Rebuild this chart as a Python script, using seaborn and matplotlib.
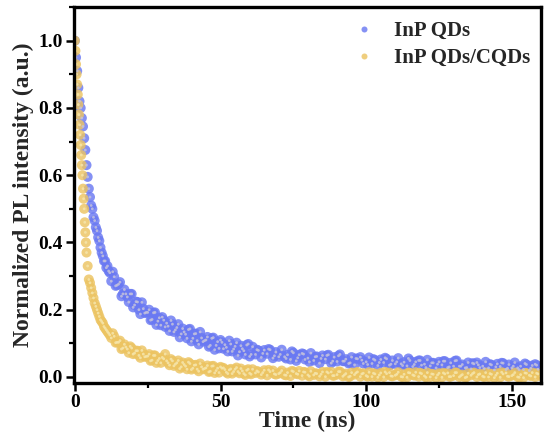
import matplotlib
matplotlib.use("Agg")
import matplotlib.pyplot as plt
from matplotlib.ticker import MultipleLocator
import seaborn as sns
import pandas as pd

# ---- data ----
t_qd_early = [0.0, 0.4, 0.8, 1.2, 1.6, 2.0, 2.4, 2.8, 3.2, 3.6, 4.0, 4.4, 4.8, 5.2, 5.6, 6.0,
              6.4, 6.8, 7.2, 7.6, 8.0, 8.4, 8.8, 9.2, 9.6, 10.0, 10.4, 10.8, 11.2, 11.6, 12.0]
v_qd_early = [1.00, 0.95, 0.91, 0.86, 0.82, 0.80, 0.77, 0.745, 0.71, 0.675, 0.63, 0.595, 0.56,
              0.535, 0.51, 0.50, 0.475, 0.465, 0.445, 0.435, 0.415, 0.405, 0.385, 0.37, 0.36,
              0.345, 0.345, 0.325, 0.33, 0.315, 0.31]
t_qd_late = list(range(13, 161))
v_qd_late = [0.313, 0.271, 0.276, 0.240, 0.260, 0.238, 0.247, 0.207, 0.224, 0.200, 0.222, 0.190,
             0.192, 0.169, 0.191, 0.155, 0.176, 0.178, 0.149, 0.151, 0.168, 0.134, 0.147, 0.118,
             0.144, 0.127, 0.141, 0.106, 0.128, 0.108, 0.134, 0.105, 0.110, 0.090, 0.115, 0.081,
             0.105, 0.110, 0.084, 0.088, 0.108, 0.076, 0.091, 0.064, 0.093, 0.078, 0.095, 0.061,
             0.090, 0.067, 0.079, 0.058, 0.080, 0.069, 0.081, 0.056, 0.074, 0.060, 0.081, 0.060,
             0.066, 0.052, 0.072, 0.048, 0.066, 0.070, 0.052, 0.056, 0.071, 0.049, 0.061, 0.041,
             0.064, 0.053, 0.066, 0.041, 0.059, 0.046, 0.067, 0.047, 0.053, 0.040, 0.059, 0.036,
             0.054, 0.059, 0.040, 0.045, 0.058, 0.040, 0.050, 0.034, 0.052, 0.043, 0.054, 0.035,
             0.049, 0.039, 0.056, 0.039, 0.044, 0.033, 0.049, 0.031, 0.045, 0.049, 0.035, 0.038,
             0.051, 0.033, 0.042, 0.027, 0.045, 0.036, 0.047, 0.028, 0.042, 0.032, 0.049, 0.032,
             0.037, 0.027, 0.043, 0.024, 0.039, 0.043, 0.028, 0.032, 0.045, 0.027, 0.036, 0.021,
             0.039, 0.031, 0.041, 0.022, 0.037, 0.027, 0.043, 0.027, 0.032, 0.022, 0.037, 0.019,
             0.034, 0.038, 0.023, 0.027]
t_qd_half = [12.5, 13.5, 14.5, 15.5, 16.5, 17.5, 18.5, 19.5, 20.5, 21.5, 22.5, 23.5,
             24.5, 25.5, 26.5, 27.5, 28.5, 29.5, 30.5, 31.5, 32.5, 33.5, 34.5, 35.5,
             36.5, 37.5, 38.5, 39.5, 40.5, 41.5, 42.5, 43.5, 44.5, 45.5, 46.5, 47.5,
             48.5, 49.5, 50.5, 51.5, 52.5, 53.5, 54.5, 55.5, 56.5, 57.5, 58.5, 59.5,
             60.5, 62.5, 64.5, 66.5, 68.5, 70.5, 72.5, 74.5, 76.5, 78.5, 80.5, 82.5,
             84.5, 86.5, 88.5, 90.5, 92.5, 94.5, 96.5, 98.5, 100.5, 102.5, 104.5, 106.5,
             108.5, 110.5, 112.5, 114.5, 116.5, 118.5, 120.5, 122.5, 124.5, 126.5, 128.5, 130.5,
             132.5, 134.5, 136.5, 138.5, 140.5, 142.5, 144.5, 146.5, 148.5, 150.5, 152.5, 154.5,
             156.5, 158.5]
v_qd_half = [0.285, 0.298, 0.273, 0.282, 0.247, 0.247, 0.223, 0.247, 0.214, 0.223, 0.187, 0.203,
             0.192, 0.200, 0.171, 0.192, 0.166, 0.154, 0.169, 0.160, 0.137, 0.157, 0.140, 0.157,
             0.128, 0.134, 0.115, 0.143, 0.115, 0.129, 0.097, 0.116, 0.108, 0.119, 0.094, 0.117,
             0.094, 0.085, 0.103, 0.096, 0.076, 0.098, 0.083, 0.102, 0.075, 0.084, 0.067, 0.098,
             0.067, 0.081, 0.070, 0.083, 0.063, 0.067, 0.055, 0.076, 0.057, 0.068, 0.045, 0.060,
             0.055, 0.064, 0.047, 0.063, 0.047, 0.042, 0.055, 0.050, 0.037, 0.053, 0.043, 0.057,
             0.038, 0.045, 0.034, 0.055, 0.037, 0.049, 0.028, 0.042, 0.038, 0.047, 0.030, 0.048,
             0.032, 0.028, 0.041, 0.036, 0.025, 0.038, 0.030, 0.042, 0.026, 0.032, 0.022, 0.040,
             0.026, 0.035]

t_cqd_early = [0.0, 0.2, 0.4, 0.6, 0.8, 1.0, 1.2, 1.4, 1.6, 1.8, 2.0, 2.2, 2.4, 2.6, 2.8, 3.0,
               3.2, 3.4, 3.6, 3.8, 4.0, 4.4, 4.8, 5.2, 5.6, 6.0, 6.4, 6.8, 7.2, 7.6, 8.0, 8.4,
               8.8, 9.2, 9.6, 10.0, 10.4, 10.8, 11.2, 11.6, 12.0]
v_cqd_early = [1.00, 0.97, 0.93, 0.90, 0.87, 0.84, 0.81, 0.78, 0.75, 0.72, 0.69, 0.66, 0.63,
               0.60, 0.56, 0.53, 0.50, 0.46, 0.43, 0.40, 0.37, 0.33, 0.29, 0.28, 0.265, 0.25,
               0.235, 0.22, 0.21, 0.20, 0.19, 0.18, 0.17, 0.165, 0.16, 0.15, 0.145, 0.14, 0.135,
               0.13, 0.125]
t_cqd_late = list(range(13, 161))
v_cqd_late = [0.130, 0.102, 0.103, 0.083, 0.097, 0.083, 0.091, 0.068, 0.078, 0.064, 0.079, 0.060,
              0.062, 0.048, 0.064, 0.042, 0.055, 0.058, 0.068, 0.042, 0.053, 0.033, 0.042, 0.025,
              0.043, 0.032, 0.044, 0.022, 0.035, 0.023, 0.040, 0.023, 0.027, 0.015, 0.032, 0.012,
              0.026, 0.030, 0.027, 0.014, 0.021, 0.010, 0.023, 0.016, 0.025, 0.010, 0.020, 0.011,
              0.023, 0.012, 0.015, 0.007, 0.020, 0.005, 0.016, 0.019, 0.007, 0.010, 0.019, 0.006,
              0.013, 0.003, 0.016, 0.010, 0.018, 0.004, 0.014, 0.006, 0.017, 0.006, 0.010, 0.002,
              0.015, 0.001, 0.012, 0.015, 0.004, 0.007, 0.016, 0.002, 0.010, 0.000, 0.013, 0.007,
              0.015, 0.001, 0.011, 0.004, 0.014, 0.001, 0.009, -0.001, 0.012, 0.000, 0.010, 0.013,
              0.002, 0.005, 0.014, 0.001, 0.008, -0.001, 0.012, 0.006, 0.014, 0.001, 0.010, 0.003,
              0.013, 0.000, 0.008, -0.002, 0.011, -0.001, 0.009, 0.012, 0.001, 0.004, 0.013, 0.000,
              0.007, -0.002, 0.011, 0.005, 0.013, 0.000, 0.009, 0.002, 0.013, 0.000, 0.008, -0.002,
              0.011, -0.001, 0.009, 0.012, 0.001, 0.004, 0.013, 0.000, 0.007, -0.002, 0.011, 0.005,
              0.013, 0.000, 0.009, 0.002]
t_cqd_half = [12.5, 13.5, 14.5, 15.5, 16.5, 17.5, 18.5, 19.5, 20.5, 21.5, 22.5, 23.5,
              24.5, 25.5, 26.5, 27.5, 28.5, 29.5, 30.5, 31.5, 32.5, 33.5, 34.5, 35.5,
              36.5, 37.5, 38.5, 39.5, 40.5, 41.5, 42.5, 43.5, 44.5, 45.5, 46.5, 47.5,
              48.5, 49.5, 50.5, 51.5, 52.5, 53.5, 54.5, 55.5, 56.5, 57.5, 58.5, 59.5,
              60.5, 62.5, 64.5, 66.5, 68.5, 70.5, 72.5, 74.5, 76.5, 78.5, 80.5, 82.5,
              84.5, 86.5, 88.5, 90.5, 92.5, 94.5, 96.5, 98.5, 100.5, 102.5, 104.5, 106.5,
              108.5, 110.5, 112.5, 114.5, 116.5, 118.5, 120.5, 122.5, 124.5, 126.5, 128.5, 130.5,
              132.5, 134.5, 136.5, 138.5, 140.5, 142.5, 144.5, 146.5, 148.5, 150.5, 152.5, 154.5,
              156.5, 158.5]
v_cqd_half = [0.116, 0.121, 0.103, 0.108, 0.086, 0.089, 0.072, 0.086, 0.071, 0.078, 0.057, 0.068,
              0.061, 0.068, 0.050, 0.064, 0.049, 0.042, 0.054, 0.048, 0.035, 0.048, 0.038, 0.049,
              0.030, 0.037, 0.023, 0.040, 0.026, 0.036, 0.017, 0.030, 0.025, 0.034, 0.017, 0.033,
              0.019, 0.013, 0.026, 0.022, 0.010, 0.024, 0.016, 0.028, 0.011, 0.018, 0.006, 0.023,
              0.008, 0.018, 0.013, 0.021, 0.009, 0.013, 0.005, 0.018, 0.008, 0.015, 0.002, 0.011,
              0.008, 0.015, 0.004, 0.016, 0.006, 0.002, 0.012, 0.009, 0.001, 0.011, 0.006, 0.015,
              0.003, 0.008, 0.000, 0.013, 0.004, 0.012, -0.001, 0.009, 0.006, 0.012, 0.001, 0.013,
              0.004, 0.000, 0.010, 0.007, 0.000, 0.010, 0.005, 0.014, 0.002, 0.007, -0.001, 0.012,
              0.003, 0.011]

series_names = ["InP QDs", "InP QDs/CQDs"]
colors = {"InP QDs": "#6a79f2", "InP QDs/CQDs": "#ecc462"}
highlights = {"InP QDs": "#c4c2dc", "InP QDs/CQDs": "#f6e6ac"}

df = pd.concat([
    pd.DataFrame({"t": t_qd_early + t_qd_late + t_qd_half,
                  "v": v_qd_early + v_qd_late + v_qd_half, "s": series_names[0]}),
    pd.DataFrame({"t": t_cqd_early + t_cqd_late + t_cqd_half,
                  "v": v_cqd_early + v_cqd_late + v_cqd_half, "s": series_names[1]}),
], ignore_index=True)

sns.set_theme(style="ticks")
plt.rcParams["font.family"] = ["Liberation Serif", "DejaVu Serif"]
plt.rcParams["font.weight"] = "bold"

fig = plt.figure(figsize=(5.5, 4.43), dpi=100)
ax = fig.add_axes([0.1345, 0.1354, 0.8491, 0.8486])

sns.scatterplot(data=df, x="t", y="v", hue="s", hue_order=series_names, palette=colors,
                s=52, alpha=0.82, linewidth=0, ax=ax, legend=True, zorder=3)
sns.scatterplot(data=df, x="t", y="v", hue="s", hue_order=series_names, palette=highlights,
                s=4, alpha=0.85, linewidth=0, ax=ax, legend=False, zorder=4)

ax.set_xlim(-0.3, 160)
ax.set_ylim(-0.018, 1.10)
ax.xaxis.set_major_locator(MultipleLocator(50))
ax.xaxis.set_minor_locator(MultipleLocator(25))
ax.yaxis.set_minor_locator(MultipleLocator(0.1))
ax.set_yticks([0.0, 0.2, 0.4, 0.6, 0.8, 1.0])
ax.set_yticklabels(["0.0", "0.2", "0.4", "0.6", "0.8", "1.0"])

for sp in ax.spines.values():
    sp.set_visible(True)
    sp.set_linewidth(2.4)
    sp.set_color("black")
    sp.set_zorder(6)
ax.tick_params(which="major", direction="out", length=6, width=1.8, labelsize=14,
               colors="black", pad=2)
ax.tick_params(which="minor", direction="out", length=3.5, width=1.6, colors="black")
for lab in ax.get_xticklabels() + ax.get_yticklabels():
    lab.set_fontweight("bold")

ax.set_xlabel("Time (ns)", fontsize=17, fontweight="bold", labelpad=0)
ax.set_ylabel("Normalized PL intensity (a.u.)", fontsize=17, fontweight="bold", labelpad=3)

handles, labels = ax.get_legend_handles_labels()
leg = ax.legend(handles, labels, loc="upper right", bbox_to_anchor=(0.994, 0.985), frameon=False,
                prop={"family": "Liberation Serif", "weight": "bold", "size": 15},
                markerscale=0.6, handlelength=2.0, handletextpad=0.4, labelspacing=0.33,
                borderaxespad=0.0)

fig.savefig("out.png", dpi=100)
